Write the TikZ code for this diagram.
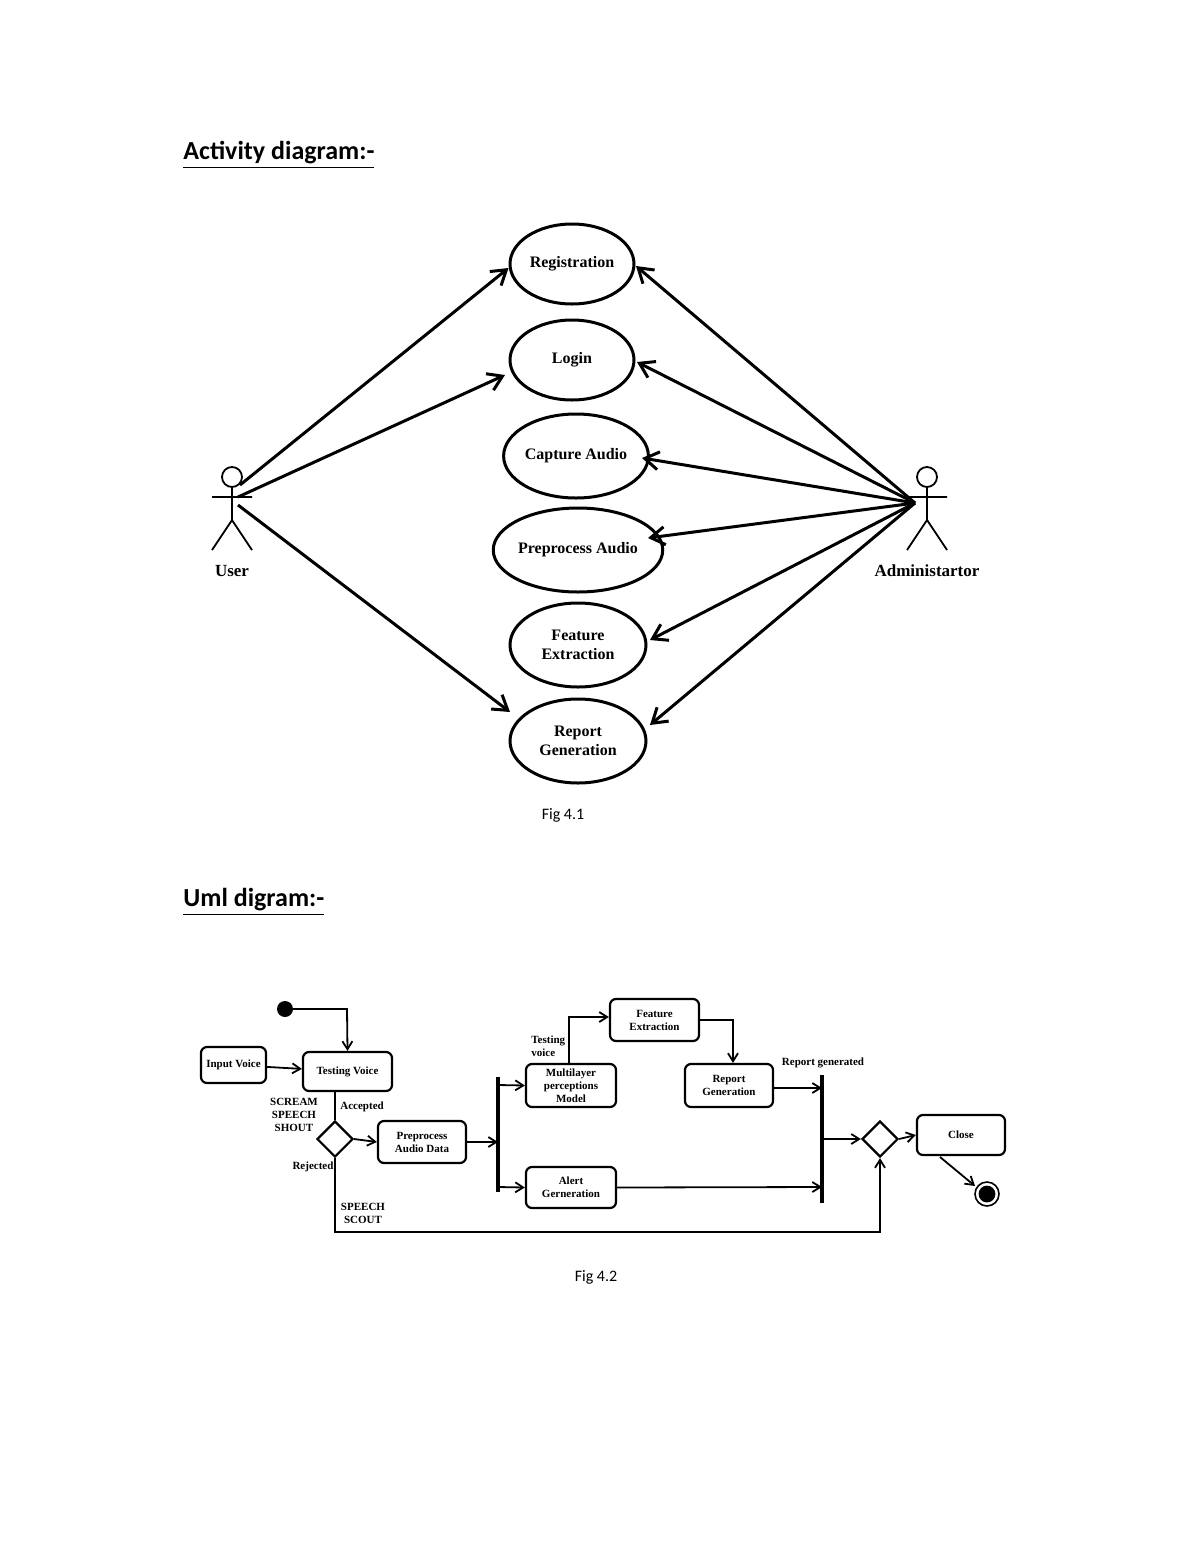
\documentclass[tikz,border=0pt]{standalone}
\usepackage{fontspec}
\setmainfont{Liberation Serif}
\newfontfamily\hd{Carlito}
\usetikzlibrary{shapes.geometric,arrows.meta}
\begin{document}
\begin{tikzpicture}[x=0.5pt,y=-0.5pt,
 uc/.style={ellipse,draw,line width=1.5pt,font=\bfseries\fontsize{8}{9.5}\selectfont,align=center,inner sep=0pt},
 ua/.style={line width=1.5pt,-{Straight Barb[length=7pt,width=9pt,line width=1.5pt]}},
 act/.style={line width=0.9pt},
 bx/.style={draw,rounded corners=3pt,line width=1.1pt,font=\bfseries\fontsize{5.5}{6.5}\selectfont,align=center,inner sep=0pt},
 ar/.style={line width=0.9pt,-{Straight Barb[length=4pt,width=5pt,line width=0.9pt]}},
 ln/.style={line width=0.9pt},
 lb/.style={font=\bfseries\fontsize{5.5}{6.5}\selectfont,align=center,inner sep=0pt},
 hdg/.style={font=\hd\bfseries\fontsize{13}{15}\selectfont,anchor=west,inner sep=0pt},
 fig/.style={font=\hd\fontsize{8}{10}\selectfont,inner sep=0pt}]
\useasboundingbox (0,0) rectangle (1200,1553);
\fill[white] (0,0) rectangle (1200,1553);
\node[hdg] (h1) at (183,155) {\underline{Activity diagram:-}};
% use cases
\node[uc,minimum width=62pt,minimum height=40pt] (reg) at (572,264) {Registration};
\node[uc,minimum width=62pt,minimum height=40pt] (log) at (572,360) {Login};
\node[uc,minimum width=67pt,minimum height=42pt] (cap) at (576,456) {Capture Audio};
\node[uc,minimum width=68pt,minimum height=42pt] (pre) at (578,550) {Preprocess Audio};
\node[uc,minimum width=68pt,minimum height=42pt] (fea) at (578,645) {Feature\\Extraction};
\node[uc,minimum width=68pt,minimum height=42pt] (rep) at (578,741) {Report\\Generation};
% actors
\foreach \n/\x in {u/232,a/927}{
 \draw[act] (\x,477) circle (5pt);
 \draw[act] (\x,487) -- (\x,520) (\x-20,497) -- (\x+20,497) (\x-20,550) -- (\x,520) -- (\x+20,550);
 \coordinate (\n) at (\x,497);
}
\node[font=\bfseries\fontsize{8.5}{10}\selectfont] (ul) at (232,571) {User};
\node[font=\bfseries\fontsize{8.5}{10}\selectfont] (al) at (927,571) {Administartor};
\coordinate (u1) at (240,485); \coordinate (u2) at (238,497); \coordinate (u3) at (238,505);
\coordinate (a1) at (915,503);
\coordinate (lgend) at (505,375);
\draw[ua] (u1) -- (reg.west|-510,268) ;
\draw[ua] (u2) -- (lgend);
\draw[ua] (u3) -- (510,712);
\draw[ua] (a1) -- (636,266);
\draw[ua] (a1) -- (637,362);
\draw[ua] (a1) -- (642,458);
\draw[ua] (a1) -- (648,538);
\draw[ua] (a1) -- (650,640);
\draw[ua] (a1) -- (650,725);
\node[fig] (f1) at (563,815) {Fig 4.1};
% UML
\node[hdg] (h2) at (183,902) {\underline{Uml digram:-}};
\fill (285,1009) circle (4pt) coordinate (st);
\node[bx,minimum width=32.5pt,minimum height=18pt] (inp) at (233.5,1065) {Input Voice};
\node[bx,minimum width=44.5pt,minimum height=19.5pt] (tv) at (347.5,1071.5) {Testing Voice};
\node[diamond,draw,line width=1.1pt,minimum width=18pt,minimum height=18pt,inner sep=0pt] (d1) at (335,1139) {};
\node[bx,minimum width=44pt,minimum height=21pt] (pp) at (422,1142) {Preprocess\\Audio Data};
\node[bx,minimum width=45pt,minimum height=21.5pt] (ml) at (571,1085.5) {Multilayer\\perceptions\\Model};
\node[bx,minimum width=45pt,minimum height=20.5pt] (al2) at (571,1187.5) {Alert\\Gerneration};
\node[bx,minimum width=44.5pt,minimum height=21pt] (fe) at (654.5,1020) {Feature\\Extraction};
\node[bx,minimum width=44pt,minimum height=21.5pt] (rg) at (729,1085.5) {Report\\Generation};
\node[diamond,draw,line width=1.1pt,minimum width=18pt,minimum height=18pt,inner sep=0pt] (d2) at (880,1139) {};
\node[bx,minimum width=44pt,minimum height=20pt] (cl) at (961,1135) {Close};
\draw[line width=0.8pt] (987,1194) circle (6pt);
\fill (987,1194) circle (4.2pt);
\coordinate (en) at (975,1186);
\draw[line width=1.6pt] (498,1077) -- (498,1192);
\draw[line width=1.6pt] (822,1075) -- (822,1203);
\draw[ar] (st) -- (347,1009) -- (tv.north);
\draw[ar] (inp) -- (tv);
\draw[ln] (tv.south-|335,0) -- (d1.north);
\draw[ar] (d1.east) -- (pp.west);
\draw[ar] (pp.east) -- (498,1142);
\draw[ar] (498,1085) -- (ml.west);
\draw[ar] (498,1187) -- (al2.west);
\draw[ar] (ml.north-|569,0) -- (569,1017) -- (fe.west|-569,1017);
\draw[ar] (fe.east) -- (733,1020) -- (rg.north-|733,0);
\draw[ar] (rg.east|-0,1088) -- (822,1088);
\draw[ar] (al2.east) -- (822,1187);
\draw[ar] (822,1139) -- (d2.west);
\draw[ar] (d2.east) -- (cl.west);
\draw[ar] (940,1157) -- (en);
\draw[ar] (d1.south) -- (335,1232) -- (880,1232) -- (d2.south);
\node[lb] (t1) at (294,1115) {SCREAM\\SPEECH\\SHOUT};
\node[lb,anchor=west] (t2) at (340,1107) {Accepted};
\node[lb] (t3) at (313,1167) {Rejected};
\node[lb] (t4) at (363,1213) {SPEECH\\SCOUT};
\node[lb,align=left,anchor=west] (t5) at (531,1046) {Testing\\voice};
\node[lb] (t6) at (823,1063) {Report generated};
\node[fig] (f2) at (596,1277) {Fig 4.2};
\end{tikzpicture}
\end{document}
